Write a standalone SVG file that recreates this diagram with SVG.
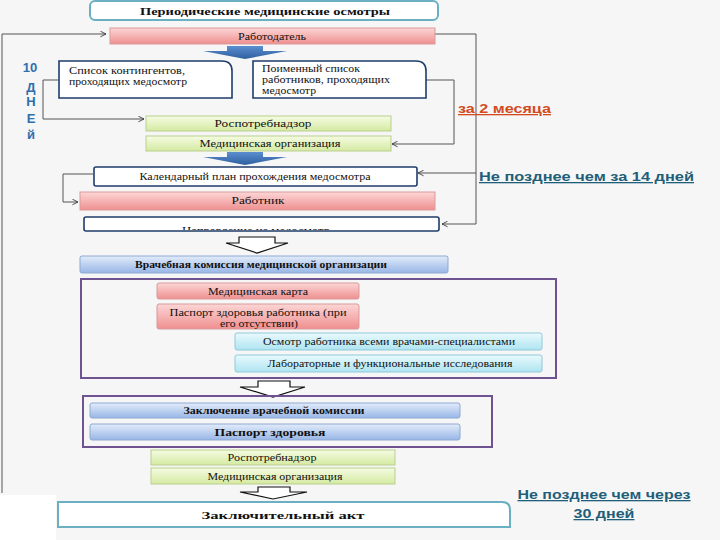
<svg xmlns="http://www.w3.org/2000/svg" width="720" height="540" viewBox="0 0 720 540">
<defs>
<linearGradient id="gPink" x1="0" y1="0" x2="0" y2="1"><stop offset="0" stop-color="#fcd6d6"/><stop offset="1" stop-color="#ef8f8f"/></linearGradient>
<linearGradient id="gGreen" x1="0" y1="0" x2="0" y2="1"><stop offset="0" stop-color="#f5fbe2"/><stop offset="1" stop-color="#d5eaa2"/></linearGradient>
<linearGradient id="gBlue" x1="0" y1="0" x2="0" y2="1"><stop offset="0" stop-color="#e2ecfa"/><stop offset="1" stop-color="#98b6e6"/></linearGradient>
<linearGradient id="gCyan" x1="0" y1="0" x2="0" y2="1"><stop offset="0" stop-color="#eafafd"/><stop offset="1" stop-color="#aee4f1"/></linearGradient>
<linearGradient id="gArrow" x1="0" y1="0" x2="0" y2="1"><stop offset="0" stop-color="#5b8ed0"/><stop offset="1" stop-color="#2f5f9e"/></linearGradient>
<marker id="arr" viewBox="0 0 10 10" refX="9" refY="5" markerWidth="7" markerHeight="7" orient="auto" markerUnits="userSpaceOnUse">
<path d="M1,1 L9,5 L1,9" fill="none" stroke="#333" stroke-width="1.2"/>
</marker>
<clipPath id="clipNapr"><rect x="84" y="217" width="355" height="13"/></clipPath>
</defs>
<style>
.t{font-family:"Liberation Serif","Times New Roman",serif;font-size:10px;fill:#111;}
.tb{font-family:"Liberation Serif","Times New Roman",serif;font-size:10px;font-weight:bold;fill:#111;}
.pink{fill:url(#gPink);stroke:#d99a9a;stroke-width:1;}
.green{fill:url(#gGreen);stroke:#b9cf8d;stroke-width:1;}
.blue{fill:url(#gBlue);stroke:#8ea9d2;stroke-width:1;}
.cyan{fill:url(#gCyan);stroke:#8fcad9;stroke-width:1;}
.navy{fill:#ffffff;stroke:#1f3d6b;stroke-width:1.6;}
.teal{fill:#ffffff;stroke:#6aafc2;stroke-width:2;}
.frame{fill:none;stroke:#6f5290;stroke-width:2;}
.hollow{fill:#ffffff;stroke:#111;stroke-width:1.2;}
.conn{fill:none;stroke:#555;stroke-width:1;}
.lbl{font-family:"Liberation Sans",Arial,sans-serif;font-size:13px;font-weight:bold;text-decoration:underline;}
.days{font-family:"Liberation Sans",Arial,sans-serif;font-size:13px;font-weight:bold;fill:#2e6fb0;}
</style>
<rect x="0" y="0" width="720" height="540" fill="#f6f6f6"/>
<rect x="0" y="495" width="56" height="45" fill="#ffffff"/>

<g id="connectors">
<polyline class="conn" points="2,493 2,34 106,34" marker-end="url(#arr)"/>
<polyline class="conn" points="435,34 476,34 476,224 442,224" marker-end="url(#arr)"/>
<polyline class="conn" points="476,173 418,173" marker-end="url(#arr)"/>
<polyline class="conn" points="58,80 43,80 43,119 144,119" marker-end="url(#arr)"/>
<polyline class="conn" points="426,80 454,80 454,144 392,144" marker-end="url(#arr)"/>
<polyline class="conn" points="93,174 63,174 63,202 78,202" marker-end="url(#arr)"/>
</g>

<g id="arrows">
<polygon fill="url(#gArrow)" points="227,46 263,46 263,51 287,51 245,59 203,51 227,51"/>
<polygon fill="url(#gArrow)" points="227,152 263,152 263,157 287,157 245,165 203,157 227,157"/>
<polygon class="hollow" points="239,237 275,237 275,243 288,243 257,253 226,243 239,243"/>
<polygon class="hollow" points="258,381 290,381 290,387 305,387 273,397 240,387 258,387"/>
<polygon class="hollow" points="258,487 290,487 290,492 307,492 273,499 240,492 258,492"/>
</g>

<g id="n-title">
<rect class="teal" x="90" y="1" width="348" height="19" rx="5"/>
<text class="tb" x="265" y="14.5" text-anchor="middle" textLength="250" lengthAdjust="spacingAndGlyphs" font-size="11.5">Периодические медицинские осмотры</text>
</g>

<g id="n-employer">
<rect class="pink" x="110" y="28" width="325" height="16"/>
<text class="t" x="272" y="39.5" text-anchor="middle" textLength="68" lengthAdjust="spacingAndGlyphs" font-size="9.5">Работодатель</text>
</g>

<g id="n-list1">
<path class="navy" d="M59,61 H222 Q232,61 232,71 V98 H59 Z"/>
<text class="t" x="69" y="73.5" textLength="116" lengthAdjust="spacingAndGlyphs">Список контингентов,</text>
<text class="t" x="69" y="84.5" textLength="118" lengthAdjust="spacingAndGlyphs">проходящих медосмотр</text>
</g>

<g id="n-list2">
<path class="navy" d="M253,61 H416 Q426,61 426,71 V98 H253 Z"/>
<text class="t" x="262" y="71.5" textLength="98" lengthAdjust="spacingAndGlyphs">Поименный список</text>
<text class="t" x="262" y="82.5" textLength="128" lengthAdjust="spacingAndGlyphs">работников, проходящих</text>
<text class="t" x="262" y="93.5" textLength="54" lengthAdjust="spacingAndGlyphs">медосмотр</text>
</g>

<g id="n-rospotreb1">
<rect class="green" x="146" y="116" width="245" height="15"/>
<text class="t" x="263" y="127" text-anchor="middle" textLength="97" lengthAdjust="spacingAndGlyphs">Роспотребнадзор</text>
</g>

<g id="n-medorg1">
<rect class="green" x="146" y="136" width="245" height="15"/>
<text class="t" x="270" y="147" text-anchor="middle" textLength="141" lengthAdjust="spacingAndGlyphs">Медицинская организация</text>
</g>

<g id="n-calendar">
<rect class="navy" x="94" y="167" width="323" height="19" rx="2"/>
<text class="t" x="255" y="180" text-anchor="middle" textLength="231" lengthAdjust="spacingAndGlyphs">Календарный план прохождения медосмотра</text>
</g>

<g id="n-worker">
<rect class="pink" x="80" y="192" width="355" height="18"/>
<text class="t" x="258" y="204" text-anchor="middle" textLength="53" lengthAdjust="spacingAndGlyphs">Работник</text>
</g>

<g id="n-referral">
<rect class="navy" x="84" y="217" width="355" height="14" rx="2"/>
<text class="t" x="256" y="234" text-anchor="middle" textLength="148" lengthAdjust="spacingAndGlyphs" clip-path="url(#clipNapr)">Направление на медосмотр</text>
</g>

<g id="n-commission">
<rect class="blue" x="80" y="256" width="368" height="17" rx="2"/>
<text class="tb" x="261" y="268" text-anchor="middle" textLength="252" lengthAdjust="spacingAndGlyphs">Врачебная комиссия медицинской организации</text>
</g>

<g id="frame1">
<rect class="frame" x="81" y="279" width="475" height="99"/>
</g>

<g id="n-medcard">
<rect class="pink" x="157" y="283" width="202" height="16" rx="2"/>
<text class="t" x="258" y="294.5" text-anchor="middle" textLength="100" lengthAdjust="spacingAndGlyphs">Медицинская карта</text>
</g>

<g id="n-passport1">
<rect class="pink" x="157" y="304" width="202" height="25" rx="2"/>
<text class="t" x="258" y="316" text-anchor="middle" textLength="177" lengthAdjust="spacingAndGlyphs">Паспорт здоровья работника (при</text>
<text class="t" x="259" y="326.5" text-anchor="middle" textLength="78" lengthAdjust="spacingAndGlyphs">его отсутствии)</text>
</g>

<g id="n-exam">
<rect class="cyan" x="235" y="333" width="307" height="17" rx="2"/>
<text class="t" x="389" y="345" text-anchor="middle" textLength="252" lengthAdjust="spacingAndGlyphs">Осмотр работника всеми врачами-специалистами</text>
</g>

<g id="n-lab">
<rect class="cyan" x="235" y="355" width="307" height="17" rx="2"/>
<text class="t" x="390" y="367" text-anchor="middle" textLength="245" lengthAdjust="spacingAndGlyphs">Лабораторные и функциональные исследования</text>
</g>

<g id="frame2">
<rect class="frame" x="83" y="396" width="409" height="51"/>
</g>

<g id="n-conclusion">
<rect class="blue" x="90" y="403" width="370" height="15" rx="2"/>
<text class="tb" x="274" y="414" text-anchor="middle" textLength="181" lengthAdjust="spacingAndGlyphs">Заключение врачебной комиссии</text>
</g>

<g id="n-passport2">
<rect class="blue" x="90" y="424" width="370" height="16" rx="2"/>
<text class="tb" x="270" y="435.5" text-anchor="middle" textLength="111" lengthAdjust="spacingAndGlyphs">Паспорт здоровья</text>
</g>

<g id="n-rospotreb2">
<rect class="green" x="151" y="450" width="244" height="15"/>
<text class="t" x="272" y="461" text-anchor="middle" textLength="89" lengthAdjust="spacingAndGlyphs">Роспотребнадзор</text>
</g>

<g id="n-medorg2">
<rect class="green" x="151" y="468" width="244" height="16"/>
<text class="t" x="275" y="479.5" text-anchor="middle" textLength="135" lengthAdjust="spacingAndGlyphs">Медицинская организация</text>
</g>

<g id="n-final">
<path class="teal" d="M58,502 H502 Q510,502 510,510 V527 H58 Z"/>
<text class="tb" x="283" y="518.5" text-anchor="middle" textLength="163" lengthAdjust="spacingAndGlyphs" font-size="14">Заключительный акт</text>
</g>

<g id="labels">
<text class="days" x="30" y="72" text-anchor="middle">10</text>
<text class="days" x="31" y="92" text-anchor="middle">Д</text>
<text class="days" x="31" y="106" text-anchor="middle">Н</text>
<text class="days" x="31" y="123" text-anchor="middle">Е</text>
<text class="days" x="31" y="139" text-anchor="middle">й</text>
<text class="lbl" x="458" y="113" fill="#d24b1f" textLength="93" lengthAdjust="spacingAndGlyphs">за 2 месяца</text>
<text class="lbl" x="479" y="181" fill="#1f5f7a" textLength="215" lengthAdjust="spacingAndGlyphs">Не позднее чем за  14 дней</text>
<text class="lbl" x="604" y="499" fill="#1f5f7a" text-anchor="middle" textLength="173" lengthAdjust="spacingAndGlyphs">Не позднее чем через</text>
<text class="lbl" x="604" y="518" fill="#1f5f7a" text-anchor="middle" textLength="61" lengthAdjust="spacingAndGlyphs">30 дней</text>
</g>
</svg>
